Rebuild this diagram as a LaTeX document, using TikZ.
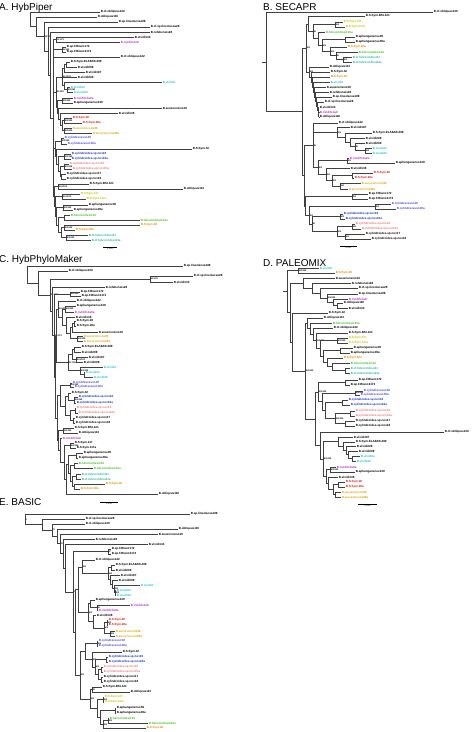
\documentclass[tikz,border=0pt]{standalone}
\usepackage{fontspec}
\setmainfont{Liberation Sans}
\definecolor{cmag}{HTML}{C030C8}
\definecolor{ccyan}{HTML}{20C4D8}
\definecolor{cred}{HTML}{E01818}
\definecolor{cgold}{HTML}{E0A800}
\definecolor{cblue}{HTML}{4848E8}
\definecolor{cdblue}{HTML}{1030C0}
\definecolor{cpink}{HTML}{F07878}
\definecolor{cyel}{HTML}{C8C400}
\definecolor{cgreen}{HTML}{40C020}
\definecolor{corange}{HTML}{F08C00}
\definecolor{cteal}{HTML}{20B8A0}
\tikzset{
  br/.style={line width=0.55pt, black!75},
  lab/.style={anchor=west, inner sep=0.5pt, font=\fontsize{3}{3.2}\selectfont\bfseries},
  bsl/.style={anchor=west, inner sep=0.3pt, font=\fontsize{2.2}{2.2}\selectfont\bfseries},
  ttl/.style={anchor=base west, inner sep=0pt, font=\fontsize{10}{12}\selectfont},
  sbar/.style={line width=0.8pt, black},
  slab/.style={inner sep=0pt, font=\fontsize{2.2}{2.2}\selectfont}
}
\newcommand\lf[5]{\draw[br] (#1,#3) -- (#2,#3) node[lab,text=#4]{#5};}
\newcommand\cl[5][]{%
  \draw[br] (#3,#4) -- (#3,#5);
  \draw[br] (#2,{(#4+#5)/2}) -- (#3,{(#4+#5)/2});
  \def\bstmp{#1}\ifx\bstmp\empty\else\node[bsl] at (#3,{(#4+#5)/2}) {#1};\fi}
\begin{document}
\begin{tikzpicture}[x=1pt,y=-1pt]
\useasboundingbox[fill=white] (0,0) rectangle (474,732);
% ===== titles
\node[ttl] (tA) at (-1,10) {A. HybPiper};
\node[ttl] (tB) at (263,10) {B. SECAPR};
\node[ttl] (tC) at (-1,262) {C. HybPhyloMaker};
\node[ttl] (tD) at (263,266) {D. PALEOMIX};
\node[ttl] (tE) at (-1,505) {E. BASIC};
% ===================== A
\cl{30}{30}{12}{26.75}
\lf{30}{100}{12}{black}{B.cf.obliquus130}
\cl{30}{36}{17}{36.5}
\lf{36}{97}{17}{black}{B.obliquus116}
\cl[98/100]{36}{44}{22}{50.99}
\lf{44}{118}{22}{black}{B.sp.lineolacea108}
\cl{44}{48}{27}{74.98}
\lf{48}{150}{27}{black}{B.cf.sp.lineolacea28}
\cl{48}{50}{32}{117.97}
\lf{50}{150}{32}{black}{B.rufebensis28}
\cl{50}{53}{39.5}{196.44}
\cl[74.1/73]{53}{56}{37}{42}
\lf{56}{134}{37}{black}{B.vividi134}
\lf{56}{120}{42}{cmag}{B.rividifolia8}
\cl[96/100]{53}{62}{47}{52}
\lf{62}{66}{47}{black}{B.sp.F.Blanc172}
\lf{62}{66}{52}{black}{B.sp.F.Blanc2173}
\lf{53}{120}{57}{black}{B.cf.obliquus142}
\cl[88.3/82]{53}{56}{77}{107.06}
\cl[99.2/100]{56}{62}{68.25}{85.75}
\cl{62}{64}{64.5}{72}
\cl{64}{66}{62}{67}
\lf{66}{70}{62}{black}{B.S.Sym.ELA8AB.209}
\lf{66}{77}{67}{black}{B.vividi208}
\lf{64}{85}{72}{black}{B.vividi187}
\lf{62}{77}{77}{black}{B.vividi209}
\cl{62}{64}{82}{89.5}
\lf{64}{162}{82}{ccyan}{B.vividi3}
\cl[100/100]{64}{67}{87}{92}
\lf{67}{70}{87}{ccyan}{B.vividi3a}
\lf{67}{73}{92}{ccyan}{B.vividi3b}
\cl{56}{57}{100.5}{113.63}
\cl[100/100]{57}{62}{98}{103}
\lf{62}{73}{98}{cmag}{B.rividifolia8a}
\lf{62}{73}{103}{black}{B.aphanganense139}
\cl{57}{58}{108}{119.25}
\lf{58}{162}{108}{black}{B.asuxnensis116}
\cl{58}{60}{113}{125.5}
\lf{60}{118}{113}{black}{B.vividi138}
\cl{60}{62}{120.5}{130.5}
\cl[100/100]{62}{64}{118}{123}
\lf{64}{72}{118}{cred}{B.S.Sym.28}
\lf{64}{82}{123}{cred}{B.S.Sym.28a}
\cl[100/100]{62}{64}{128}{133}
\lf{64}{72}{128}{cgold}{B.ascuroncens98}
\lf{64}{92}{133}{cgold}{B.ascuroncens98a}
\cl{53}{55}{141}{156.5}
\cl[100/100]{55}{61}{138}{144}
\lf{61}{64}{138}{cblue}{B.cylindraceus130}
\lf{61}{67}{144}{cblue}{B.cylindraceus130a}
\cl{55}{56}{149}{164}
\lf{56}{192}{149}{black}{B.S.Sym.32}
\cl{56}{58}{156.5}{171.5}
\cl[100/100]{58}{64}{154}{159}
\lf{64}{71}{154}{cdblue}{B.cylindroides.sp.nov16}
\lf{64}{71}{159}{cdblue}{B.cylindroides.sp.nov16a}
\cl{58}{60}{166.5}{176.5}
\cl[100/100]{60}{64}{164}{169}
\lf{64}{69}{164}{cpink}{B.cylindroides.sp.nov15}
\lf{64}{72}{169}{cpink}{B.cylindroides.sp.nov15a}
\cl{60}{61}{174}{179}
\lf{61}{66}{174}{black}{B.cylindroides.sp.nov17}
\lf{61}{66}{179}{black}{B.cylindroides.sp.nov18}
\cl{53}{54}{186.5}{206.38}
\cl[99.8/100]{54}{58}{184}{189}
\lf{58}{89}{184}{black}{B.S.Sym.BSt.121}
\lf{58}{183}{189}{black}{B.obliquus113}
\cl{54}{55}{196.5}{216.25}
\cl[99.6/100]{55}{62}{194}{199}
\lf{62}{80}{194}{cyel}{B.S.Sym.117}
\lf{62}{86}{199}{cyel}{B.S.Sym.117a}
\cl{55}{56}{207.5}{225}
\cl[100/100]{56}{63}{205}{210}
\lf{63}{88}{205}{black}{B.aphanganense39}
\lf{63}{73}{210}{black}{B.aphanganense39a}
\cl{56}{58}{217.5}{232.5}
\cl{58}{64}{215}{220}
\lf{64}{70}{215}{cgreen}{B.fulvocinllesi101}
\lf{64}{140}{220}{cgreen}{B.fulvocinllesi101a}
\cl{58}{61}{227.5}{237.5}
\cl[100/100]{61}{64}{225}{230}
\lf{64}{140}{225}{corange}{B.S.Sym.48}
\lf{64}{75}{230}{corange}{B.S.Sym.48a}
\cl[100/100]{61}{66}{235}{240}
\lf{66}{88}{235}{cteal}{B.cf.fulvocinllesi21}
\lf{66}{91}{240}{cteal}{B.cf.fulvocinllesi21a}
\draw[sbar] (103,247) -- (117,247) node[slab,midway,below=1pt] (sA) {0.005};
% ===================== B
\cl{262}{266}{12}{111.75}
\lf{266}{433}{12}{black}{B.cf.obliquus130}
\cl{266}{302}{47.9}{175.6}
\cl[100]{302}{306}{23.8}{72}
\cl{306}{308}{16}{31.6}
\lf{308}{365}{16}{black}{B.S.Sym.BSt.121}
\cl[98]{308}{313}{24.5}{38.7}
\cl[100]{313}{335}{22}{27}
\lf{335}{343}{22}{cyel}{B.S.Sym.117}
\lf{335}{345}{27}{cyel}{B.S.Sym.117a}
\cl{313}{318}{32}{45.4}
\lf{318}{325}{32}{cgreen}{B.fulvocinllesi101a}
\cl[100]{318}{322}{39.5}{51.4}
\cl{322}{345}{37}{42}
\lf{345}{355}{37}{black}{B.aphanganense39}
\lf{345}{355}{42}{black}{B.aphanganense39a}
\cl[100]{322}{330}{47}{55.75}
\lf{330}{347}{47}{corange}{B.S.Sym.48a}
\cl[99]{330}{336}{52}{59.5}
\lf{336}{358}{52}{cgreen}{B.fulvocinllesi101}
\cl[100]{336}{343}{57}{62}
\lf{343}{352}{57}{cteal}{B.cf.fulvocinllesi21}
\lf{343}{352}{62}{cteal}{B.cf.fulvocinllesi21a}
\cl[100]{306}{309}{67}{77}
\lf{309}{329}{67}{black}{B.obliquus113}
\cl{309}{311}{72}{82}
\lf{311}{330}{72}{black}{B.S.Sym.32}
\cl{311}{312}{77}{87}
\lf{312}{330}{77}{corange}{B.S.Sym.48}
\cl{312}{313}{82}{91.9}
\lf{313}{330}{82}{ccyan}{B.vividi3}
\cl{313}{314}{87}{96.85}
\lf{314}{326}{87}{black}{B.asuxnensis116}
\cl{314}{315}{92}{101.7}
\lf{315}{329}{92}{black}{B.rufebensis28}
\cl{315}{316}{97}{106.4}
\lf{316}{332}{97}{black}{B.sp.lineolacea108}
\cl{316}{317}{102}{110.75}
\lf{317}{324}{102}{black}{B.cf.sp.lineolacea28}
\cl{317}{318}{107}{114.5}
\lf{318}{319}{107}{black}{B.vividi134}
\cl{318}{318.5}{112}{117}
\lf{318.5}{319}{112}{cmag}{B.rividifolia8}
\lf{318.5}{319}{117}{black}{B.obliquus116}
\cl{302}{304}{145.25}{205.9}
\cl[98]{304}{313}{123}{167.5}
\lf{313}{338}{123}{black}{B.cf.obliquus142}
\cl[100]{313}{337}{127}{137.7}
\lf{337}{350}{127}{black}{B.vividi187}
\cl{337}{345}{133}{142.4}
\lf{345}{372}{133}{black}{B.S.Sym.ELA8AB.209}
\cl{345}{350}{138}{146.75}
\lf{350}{365}{138}{black}{B.vividi208}
\cl[99]{350}{355}{143}{150.5}
\lf{355}{365}{143}{black}{B.vividi209}
\cl[100]{355}{365}{148}{153}
\lf{365}{372}{148}{ccyan}{B.vividi3a}
\lf{365}{372}{153}{ccyan}{B.vividi3b}
\cl[100]{313}{318}{160.5}{174.4}
\cl[100]{318}{347}{158}{163}
\lf{347}{349}{158}{cmag}{B.rividifolia8a}
\lf{347}{395}{163}{black}{B.aphanganense139}
\cl[100]{318}{326}{168}{180.75}
\lf{326}{350}{168}{black}{B.vividi138}
\cl[100]{326}{332}{175.5}{186}
\cl{332}{352}{173}{178}
\lf{352}{373}{173}{cred}{B.S.Sym.28}
\lf{352}{354}{178}{cred}{B.S.Sym.28a}
\cl[100]{332}{340}{183}{189}
\lf{340}{361}{183}{cgold}{B.ascuroncens98}
\lf{340}{348}{189}{cgold}{B.ascuroncens98a}
\cl{304}{305}{196.5}{215.25}
\cl[100]{305}{352}{194}{199}
\lf{352}{368}{194}{black}{B.sp.F.Blanc172}
\lf{352}{368}{199}{black}{B.sp.F.Blanc2173}
\cl[100]{305}{309}{206.5}{224}
\cl[100]{309}{375}{204}{209}
\lf{375}{391}{204}{cblue}{B.cylindraceus130}
\lf{375}{396}{209}{cblue}{B.cylindraceus130a}
\cl[98]{309}{312}{216.5}{231.5}
\cl[100]{312}{340}{214}{219}
\lf{340}{343}{214}{cdblue}{B.cylindroides.sp.nov16}
\lf{340}{345}{219}{cdblue}{B.cylindroides.sp.nov16a}
\cl[100]{312}{337}{226.5}{236.5}
\cl[100]{337}{352}{224}{229}
\lf{352}{355}{224}{cpink}{B.cylindroides.sp.nov15}
\lf{352}{361}{229}{cpink}{B.cylindroides.sp.nov15a}
\cl[100]{337}{345}{234}{239}
\lf{345}{365}{234}{black}{B.cylindroides.sp.nov17}
\lf{345}{371}{239}{black}{B.cylindroides.sp.nov18}
\draw[sbar] (340,246) -- (357,246) node[slab,midway,below=1pt] (sB) {0.002};
% ===================== C
\cl{27}{27}{266}{283}
\lf{27}{183}{266}{black}{B.sp.lineolacea108}
\cl{27}{38}{271}{295.1}
\lf{38}{68}{271}{black}{B.cf.obliquus130}
\cl[99.7/73]{38}{50}{279}{311.2}
\cl[94.2/75]{50}{150}{276}{282}
\lf{150}{193}{276}{black}{B.cf.sp.lineolacea28}
\lf{150}{173}{282}{black}{B.vividi134}
\cl{50}{52}{287}{335.4}
\lf{52}{105}{287}{black}{B.rufebensis28}
\cl[98.9/73]{52}{54}{294}{376.9}
\cl[100/100]{54}{70}{292}{296}
\lf{70}{80}{292}{black}{B.sp.F.Blanc172}
\lf{70}{81}{296}{black}{B.sp.F.Blanc2173}
\cl{54}{55}{335.8}{417.9}
\cl{55}{56.5}{309}{362.6}
\cl[99.8/99]{56.5}{58}{301}{317}
\lf{58}{76}{301}{black}{B.cf.obliquus142}
\cl{58}{62}{309}{325}
\cl[100/100]{62}{65}{306}{312}
\lf{65}{76}{306}{black}{B.aphanganense139}
\lf{65}{74}{312}{cmag}{B.rividifolia8a}
\cl{62}{66}{317}{333.1}
\lf{66}{75}{317}{black}{B.vividi138}
\cl{66}{70}{327.75}{338.5}
\cl{70}{72}{323.5}{332}
\cl{72}{74}{321}{326}
\lf{74}{76}{321}{black}{B.S.Sym.28}
\lf{74}{76}{326}{black}{B.S.Sym.28a}
\lf{72}{98}{332}{black}{B.asuxnensis116}
\cl[100/100]{70}{77}{336}{341}
\lf{77}{83}{336}{cgold}{B.ascuroncens98}
\lf{77}{83}{341}{cgold}{B.ascuroncens98a}
\cl[96.7/99]{56.5}{68}{354.5}{370.75}
\cl{68}{72}{349.5}{359.5}
\cl{72}{74}{347}{352}
\lf{74}{81}{347}{black}{B.S.Sym.ELA8AB.209}
\lf{74}{81}{352}{black}{B.vividi208}
\cl[99.9/100]{72}{76}{357}{362}
\lf{76}{88}{357}{black}{B.vividi187}
\lf{76}{83}{362}{black}{B.vividi209}
\cl[100/100]{68}{80}{367}{374.5}
\lf{80}{103}{367}{ccyan}{B.vividi3}
\cl{80}{84}{372}{377}
\lf{84}{85}{372}{ccyan}{B.vividi3a}
\lf{84}{93}{377}{ccyan}{B.vividi3b}
\cl{55}{57}{395.5}{440.35}
\cl{57}{60}{385}{406}
\cl[100/100]{60}{70}{383}{387}
\lf{70}{72}{383}{cblue}{B.cylindraceus130}
\lf{70}{74}{387}{cblue}{B.cylindraceus130a}
\cl{60}{65}{396.5}{415.5}
\cl{65}{68}{393}{400}
\lf{68}{71}{393}{black}{B.S.Sym.32}
\cl[100/100]{68}{74}{397}{403}
\lf{74}{78}{397}{cdblue}{B.cylindroides.sp.nov16}
\lf{74}{76}{403}{cdblue}{B.cylindroides.sp.nov16a}
\cl{65}{70}{410.5}{420.5}
\cl{70}{75}{408}{413}
\lf{75}{76}{408}{cpink}{B.cylindroides.sp.nov15}
\lf{75}{78}{413}{cpink}{B.cylindroides.sp.nov15a}
\cl{70}{73}{418}{423}
\lf{73}{75}{418}{black}{B.cylindroides.sp.nov17}
\lf{73}{75}{423}{black}{B.cylindroides.sp.nov18}
\cl{57}{58}{430.5}{450.2}
\cl[100/100]{58}{63}{428}{433}
\lf{63}{74}{428}{black}{B.S.Sym.BSt.121}
\lf{63}{78}{433}{black}{B.obliquus113}
\cl{58}{60}{438}{462.4}
\lf{60}{62}{438}{cmag}{B.rividifolia8}
\cl{60}{64}{445.5}{479.25}
\cl[100/100]{64}{70}{443}{448}
\lf{70}{74}{443}{black}{B.S.Sym.117}
\lf{70}{76}{448}{black}{B.S.Sym.117a}
\cl{64}{66}{464.5}{494}
\lf{66}{158}{494}{black}{B.obliquus116}
\cl{66}{68}{455.5}{473.5}
\cl{68}{76}{453}{458}
\lf{76}{83}{453}{black}{B.aphanganense39}
\lf{76}{78}{458}{black}{B.aphanganense39a}
\cl{68}{70}{465.5}{481.5}
\cl{70}{74}{463}{468}
\lf{74}{78}{463}{cgreen}{B.fulvocinllesi101}
\lf{74}{93}{468}{cgreen}{B.fulvocinllesi101a}
\cl{70}{72}{476.5}{486.5}
\cl{72}{76}{474}{479}
\lf{76}{81}{474}{cteal}{B.cf.fulvocinllesi21}
\lf{76}{81}{479}{cteal}{B.cf.fulvocinllesi21a}
\cl{72}{74}{484}{489}
\lf{74}{105}{484}{corange}{B.S.Sym.48}
\lf{74}{80}{489}{corange}{B.S.Sym.48a}
\draw[sbar] (100,502) -- (118,502) node[slab,midway,below=1pt] (sC) {0.005};
% ===================== D
\cl{283}{287}{270.5}{312.5}
\cl[100/100]{287}{298}{268}{273}
\lf{298}{319}{268}{ccyan}{B.vividi3}
\lf{298}{335}{273}{corange}{B.S.Sym.48}
\cl{287}{290}{283}{342}
\cl{290}{303}{278}{288}
\lf{303}{335}{278}{black}{B.asuxnensis116}
\cl{303}{312}{283}{293.1}
\lf{312}{351}{283}{black}{B.rufebensis28}
\cl{312}{320}{288}{298.1}
\lf{320}{358}{288}{black}{B.cf.sp.lineolacea28}
\cl[100/100]{320}{327}{294}{302.25}
\lf{327}{358}{294}{black}{B.sp.lineolacea108}
\cl{327}{333}{299}{305.5}
\lf{333}{348}{299}{cmag}{B.rividifolia8}
\cl{333}{337}{303}{308}
\lf{337}{343}{303}{black}{B.obliquus116}
\lf{337}{348}{308}{black}{B.vividi134}
\cl{290}{292}{313}{371}
\lf{292}{328}{313}{black}{B.S.Sym.32}
\cl[100/100]{292}{305}{323.35}{418.8}
\cl{305}{307}{318}{328.7}
\lf{307}{323}{318}{black}{B.obliquus113}
\cl{307}{310}{323}{334.4}
\lf{310}{332}{323}{cgreen}{B.fulvocinllesi101a}
\cl{310}{313}{328}{340.7}
\lf{313}{333}{328}{black}{B.cf.obliquus142}
\cl[100/100]{313}{316}{333}{348.5}
\lf{316}{348}{333}{black}{B.S.Sym.BSt.121}
\cl{316}{320}{340.5}{356.4}
\cl[100/100]{320}{337}{338}{343}
\lf{337}{348}{338}{cyel}{B.S.Sym.117}
\lf{337}{348}{343}{cyel}{B.S.Sym.117a}
\cl{320}{323}{350.5}{362.4}
\cl{323}{340}{348}{353}
\lf{340}{353}{348}{black}{B.aphanganense39}
\lf{340}{350}{353}{black}{B.aphanganense39a}
\cl{323}{327}{358}{366.75}
\lf{327}{343}{358}{corange}{B.S.Sym.48a}
\cl{327}{332}{363}{370.5}
\lf{332}{350}{363}{cgreen}{B.fulvocinllesi101}
\cl{332}{345}{368}{373}
\lf{345}{350}{368}{cteal}{B.cf.fulvocinllesi21}
\lf{345}{350}{373}{cteal}{B.cf.fulvocinllesi21a}
\cl{305}{315}{392.1}{445.5}
\cl[100/100]{315}{318}{382.5}{401.75}
\cl{318}{345}{380}{385}
\lf{345}{358}{380}{black}{B.sp.F.Blanc172}
\lf{345}{350}{385}{black}{B.sp.F.Blanc2173}
\cl{318}{322}{393}{410.5}
\cl[100/100]{322}{355}{391}{395}
\lf{355}{363}{391}{cblue}{B.cylindraceus130}
\lf{355}{360}{395}{cblue}{B.cylindraceus130a}
\cl{322}{325}{402.5}{418.5}
\cl{325}{342}{400}{405}
\lf{342}{348}{400}{cdblue}{B.cylindroides.sp.nov16}
\lf{342}{350}{405}{cdblue}{B.cylindroides.sp.nov16a}
\cl[100/100]{325}{335}{413.5}{423.5}
\cl{335}{350}{411}{416}
\lf{350}{355}{411}{cpink}{B.cylindroides.sp.nov15}
\lf{350}{355}{416}{cpink}{B.cylindroides.sp.nov15a}
\cl{335}{345}{421}{426}
\lf{345}{355}{421}{black}{B.cylindroides.sp.nov17}
\lf{345}{355}{426}{black}{B.cylindroides.sp.nov18}
\cl{315}{320}{432}{459}
\lf{320}{444}{432}{black}{B.cf.obliquus130}
\cl[100/100]{320}{323}{441.6}{476.4}
\cl{323}{338}{437}{446.2}
\lf{338}{353}{437}{black}{B.vividi187}
\cl{338}{343}{442}{450.4}
\lf{343}{355}{442}{black}{B.S.Sym.ELA8AB.209}
\cl{343}{346}{446}{454.75}
\lf{346}{356}{446}{black}{B.vividi208}
\cl{346}{348}{451}{458.5}
\lf{348}{358}{451}{black}{B.vividi209}
\cl{348}{352}{456}{461}
\lf{352}{360}{456}{ccyan}{B.vividi3a}
\lf{352}{356}{461}{ccyan}{B.vividi3b}
\cl{323}{326}{469.5}{483.25}
\cl[100/100]{326}{330}{467}{472}
\lf{330}{336}{467}{cmag}{B.rividifolia8a}
\lf{330}{355}{472}{black}{B.aphanganense139}
\cl{326}{328}{477}{489.5}
\lf{328}{338}{477}{black}{B.vividi138}
\cl{328}{333}{484.5}{494.5}
\cl{333}{338}{482}{487}
\lf{338}{345}{482}{cred}{B.S.Sym.28}
\lf{338}{345}{487}{cred}{B.S.Sym.28a}
\cl{333}{335}{492}{497}
\lf{335}{341}{492}{cgold}{B.ascuroncens98}
\lf{335}{341}{497}{cgold}{B.ascuroncens98a}
\draw[sbar] (358,504) -- (377,504) node[slab,midway,below=1pt] (sD) {0.005};
% ===================== E
\cl[1]{25}{25}{514}{524.6}
\lf{25}{190}{514}{black}{B.sp.lineolacea108}
\cl{25}{42}{519}{530.2}
\lf{42}{85}{519}{black}{B.cf.sp.lineolacea28}
\cl[71]{42}{52}{524}{536.4}
\lf{52}{85}{524}{black}{B.cf.obliquus130}
\cl{52}{57}{529}{543.75}
\lf{57}{178}{529}{black}{B.obliquus116}
\cl[97]{57}{60}{534}{553.5}
\lf{60}{158}{534}{black}{B.asuxnensis116}
\cl{60}{63}{539}{568}
\lf{63}{95}{539}{black}{B.rufebensis28}
\cl{63}{65}{544}{592}
\lf{65}{148}{544}{black}{B.vividi134}
\cl[97]{65}{73}{551.5}{632.5}
\cl[97]{73}{108}{549}{554}
\lf{108}{111}{549}{black}{B.sp.F.Blanc172}
\lf{108}{111}{554}{black}{B.sp.F.Blanc2173}
\cl{73}{75}{589.7}{675.2}
\cl{75}{78}{566.8}{612.6}
\cl[100]{78}{82}{560}{573.6}
\lf{82}{95}{560}{black}{B.cf.obliquus142}
\cl[100]{82}{108}{567.5}{579.7}
\cl{108}{111}{565}{570}
\lf{111}{115}{565}{black}{B.S.Sym.ELA8AB.209}
\lf{111}{115}{570}{black}{B.vividi208}
\cl{108}{110}{575}{584.4}
\lf{110}{120}{575}{black}{B.vividi187}
\cl{110}{112}{580}{588.75}
\lf{112}{118}{580}{black}{B.vividi209}
\cl[100]{112}{114}{585}{592.5}
\lf{114}{140}{585}{ccyan}{B.vividi3}
\cl[100]{114}{115}{590}{595}
\lf{115}{116}{590}{ccyan}{B.vividi3a}
\lf{115}{116}{595}{ccyan}{B.vividi3b}
\cl[100]{78}{88}{603.75}{621.5}
\cl{88}{90}{600}{607.5}
\lf{90}{95}{600}{black}{B.aphanganense139}
\cl[96]{90}{97}{605}{610}
\lf{97}{130}{605}{cmag}{B.rividifolia8}
\lf{97}{98}{610}{cmag}{B.rividifolia8a}
\cl{88}{93}{615}{628}
\lf{93}{96}{615}{black}{B.vividi138}
\cl[100]{93}{104}{622.5}{633.5}
\cl[100]{104}{107}{620}{625}
\lf{107}{108}{620}{cred}{B.S.Sym.28}
\lf{107}{108}{625}{cred}{B.S.Sym.28a}
\cl[100]{104}{110}{631}{636}
\lf{110}{115}{631}{cgold}{B.ascuroncens98}
\lf{110}{115}{636}{cgold}{B.ascuroncens98a}
\cl[100]{75}{80}{651.5}{698.9}
\cl{80}{85}{643.5}{659.5}
\cl[100]{85}{97}{641}{646}
\lf{97}{98}{641}{cblue}{B.cylindraceus130}
\lf{97}{98}{646}{cblue}{B.cylindraceus130a}
\cl[100]{85}{92}{652}{667}
\lf{92}{122}{652}{black}{B.S.Sym.32}
\cl[100]{92}{95}{659.5}{674.5}
\cl{95}{106}{657}{662}
\lf{106}{108}{657}{cdblue}{B.cylindroides.sp.nov16}
\lf{106}{108}{662}{cdblue}{B.cylindroides.sp.nov16a}
\cl{95}{98}{669.5}{679.5}
\cl{98}{101}{667}{672}
\lf{101}{103}{667}{cpink}{B.cylindroides.sp.nov15}
\lf{101}{103}{672}{cpink}{B.cylindroides.sp.nov15a}
\cl{98}{101}{677}{682}
\lf{101}{103}{677}{black}{B.cylindroides.sp.nov17}
\lf{101}{103}{682}{black}{B.cylindroides.sp.nov18}
\cl[100]{80}{90}{689.5}{708.4}
\cl[99]{90}{92}{687}{692}
\lf{92}{102}{687}{black}{B.S.Sym.BSt.121}
\lf{92}{130}{692}{black}{B.obliquus113}
\cl{90}{97}{699.5}{717.4}
\cl[100]{97}{103}{697}{702}
\lf{103}{104}{697}{cyel}{B.S.Sym.117}
\lf{103}{104}{702}{cyel}{B.S.Sym.117a}
\cl{97}{100}{710.5}{724.25}
\cl{100}{115}{708}{713}
\lf{115}{116}{708}{black}{B.aphanganense39}
\lf{115}{116}{713}{black}{B.aphanganense39a}
\cl[100]{100}{103}{720.5}{728}
\cl[100]{103}{108}{718}{723}
\lf{108}{109}{718}{cgreen}{B.fulvocinllesi101}
\lf{108}{148}{723}{cgreen}{B.fulvocinllesi101a}
\lf{103}{146}{728}{corange}{B.S.Sym.48}
\end{tikzpicture}
\end{document}
